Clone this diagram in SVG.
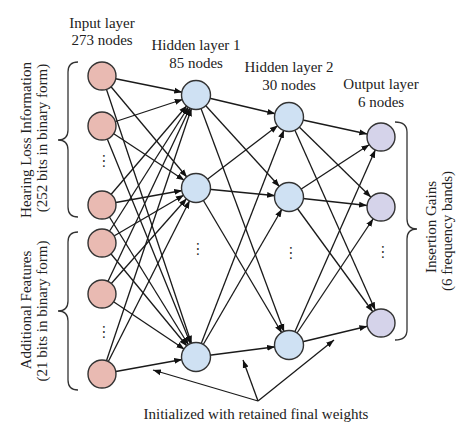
<svg xmlns="http://www.w3.org/2000/svg" width="474" height="441" viewBox="0 0 474 441">
<style>
text{font-family:"Liberation Serif","Times New Roman",serif;font-size:15px;fill:#222;}
.c{text-anchor:middle;}
.e{stroke:#1a1a1a;stroke-width:1.3;fill:none;marker-end:url(#ah);}
.a{stroke:#1a1a1a;stroke-width:1.3;fill:none;marker-end:url(#ah2);}
.br{stroke:#333;stroke-width:1.3;fill:none;}
.in{fill:#E9BAB2;stroke:#333;stroke-width:1.4;}
.hd{fill:#CFE1F3;stroke:#333;stroke-width:1.4;}
.out{fill:#D5D3EA;stroke:#333;stroke-width:1.4;}
</style>
<defs>
<marker id="ah" markerUnits="userSpaceOnUse" markerWidth="24" markerHeight="8" viewBox="0 -4 24 8" refX="22" refY="0" orient="auto"><path d="M0,-3 L8,0 L0,3 z" fill="#111"/></marker>
<marker id="ah2" markerUnits="userSpaceOnUse" markerWidth="9" markerHeight="8" viewBox="0 -4 9 8" refX="8" refY="0" orient="auto"><path d="M0,-3 L8,0 L0,3 z" fill="#111"/></marker>
</defs>
<rect width="474" height="441" fill="#fff"/>

<g id="labels">
<text class="c" x="102" y="28">Input layer</text>
<text class="c" x="102" y="45">273 nodes</text>
<text class="c" x="196" y="50">Hidden layer 1</text>
<text class="c" x="196" y="68">85 nodes</text>
<text class="c" x="289" y="72">Hidden layer 2</text>
<text class="c" x="289" y="90">30 nodes</text>
<text class="c" x="381" y="89">Output layer</text>
<text class="c" x="381" y="107">6 nodes</text>
<text class="c" transform="translate(31,140) rotate(-90)">Hearing Loss Information</text>
<text class="c" transform="translate(46.5,138) rotate(-90)">(252 bits in binary form)</text>
<text class="c" transform="translate(31,310) rotate(-90)">Additional Features</text>
<text class="c" transform="translate(46.5,311) rotate(-90)">(21 bits in binary form)</text>
<text class="c" transform="translate(436,227) rotate(-90)">Insertion Gains</text>
<text class="c" transform="translate(451.5,231) rotate(-90)">(6 frequency bands)</text>
<text class="c" x="256" y="419">Initialized with retained final weights</text>
</g>

<g id="braces">
<path class="br" d="M78,62 Q68,62 68,72 L68,130 Q68,140 58,140 Q68,140 68,150 L68,207 Q68,217 78,217"/>
<path class="br" d="M78,232 Q68,232 68,242 L68,301 Q68,311 58,311 Q68,311 68,321 L68,380 Q68,390 78,390"/>
<path class="br" d="M395,122 Q407,122 407,132 L407,219 Q407,229 417,229 Q407,229 407,239 L407,330 Q407,340 395,340"/>
</g>

<g id="connectors">
<line class="e" x1="102" y1="76" x2="196" y2="95"/>
<line class="e" x1="102" y1="76" x2="196" y2="188"/>
<line class="e" x1="102" y1="76" x2="196" y2="357"/>
<line class="e" x1="102" y1="126" x2="196" y2="95"/>
<line class="e" x1="102" y1="126" x2="196" y2="188"/>
<line class="e" x1="102" y1="126" x2="196" y2="357"/>
<line class="e" x1="102" y1="205" x2="196" y2="95"/>
<line class="e" x1="102" y1="205" x2="196" y2="188"/>
<line class="e" x1="102" y1="205" x2="196" y2="357"/>
<line class="e" x1="102" y1="243" x2="196" y2="95"/>
<line class="e" x1="102" y1="243" x2="196" y2="188"/>
<line class="e" x1="102" y1="243" x2="196" y2="357"/>
<line class="e" x1="102" y1="294" x2="196" y2="95"/>
<line class="e" x1="102" y1="294" x2="196" y2="188"/>
<line class="e" x1="102" y1="294" x2="196" y2="357"/>
<line class="e" x1="102" y1="374" x2="196" y2="95"/>
<line class="e" x1="102" y1="374" x2="196" y2="188"/>
<line class="e" x1="102" y1="374" x2="196" y2="357"/>
<line class="e" x1="196" y1="95" x2="289" y2="117"/>
<line class="e" x1="196" y1="95" x2="289" y2="197"/>
<line class="e" x1="196" y1="95" x2="289" y2="345"/>
<line class="e" x1="196" y1="188" x2="289" y2="117"/>
<line class="e" x1="196" y1="188" x2="289" y2="197"/>
<line class="e" x1="196" y1="188" x2="289" y2="345"/>
<line class="e" x1="196" y1="357" x2="289" y2="117"/>
<line class="e" x1="196" y1="357" x2="289" y2="197"/>
<line class="e" x1="196" y1="357" x2="289" y2="345"/>
<line class="e" x1="289" y1="117" x2="381" y2="137"/>
<line class="e" x1="289" y1="117" x2="381" y2="207"/>
<line class="e" x1="289" y1="117" x2="381" y2="323"/>
<line class="e" x1="289" y1="197" x2="381" y2="137"/>
<line class="e" x1="289" y1="197" x2="381" y2="207"/>
<line class="e" x1="289" y1="197" x2="381" y2="323"/>
<line class="e" x1="289" y1="345" x2="381" y2="137"/>
<line class="e" x1="289" y1="345" x2="381" y2="207"/>
<line class="e" x1="289" y1="345" x2="381" y2="323"/>
<line class="a" x1="258" y1="401" x2="153" y2="370"/>
<line class="a" x1="258" y1="401" x2="243" y2="360"/>
<line class="a" x1="258" y1="401" x2="334" y2="340"/>
</g>

<g id="input-nodes">
<g id="in1"><circle class="in" cx="102" cy="76" r="14"/></g>
<g id="in2"><circle class="in" cx="102" cy="126" r="14"/></g>
<g id="in-dots1"><text class="c" transform="translate(103,161) rotate(90)">…</text></g>
<g id="in3"><circle class="in" cx="102" cy="205" r="14"/></g>
<g id="in4"><circle class="in" cx="102" cy="243" r="14"/></g>
<g id="in5"><circle class="in" cx="102" cy="294" r="14"/></g>
<g id="in-dots2"><text class="c" transform="translate(103,332) rotate(90)">…</text></g>
<g id="in6"><circle class="in" cx="102" cy="374" r="14"/></g>
</g>
<g id="hidden1-nodes">
<g id="h1a"><circle class="hd" cx="196" cy="95" r="14.5"/></g>
<g id="h1b"><circle class="hd" cx="196" cy="188" r="14.5"/></g>
<g id="h1-dots"><text class="c" transform="translate(197,249) rotate(90)">…</text></g>
<g id="h1c"><circle class="hd" cx="196" cy="357" r="14.5"/></g>
</g>
<g id="hidden2-nodes">
<g id="h2a"><circle class="hd" cx="289" cy="117" r="14.5"/></g>
<g id="h2b"><circle class="hd" cx="289" cy="197" r="14.5"/></g>
<g id="h2-dots"><text class="c" transform="translate(290,253) rotate(90)">…</text></g>
<g id="h2c"><circle class="hd" cx="289" cy="345" r="14.5"/></g>
</g>
<g id="output-nodes">
<g id="o1"><circle class="out" cx="381" cy="137" r="14"/></g>
<g id="o2"><circle class="out" cx="381" cy="207" r="14"/></g>
<g id="o-dots"><text class="c" transform="translate(382,252) rotate(90)">…</text></g>
<g id="o3"><circle class="out" cx="381" cy="323" r="14"/></g>
</g>
</svg>
